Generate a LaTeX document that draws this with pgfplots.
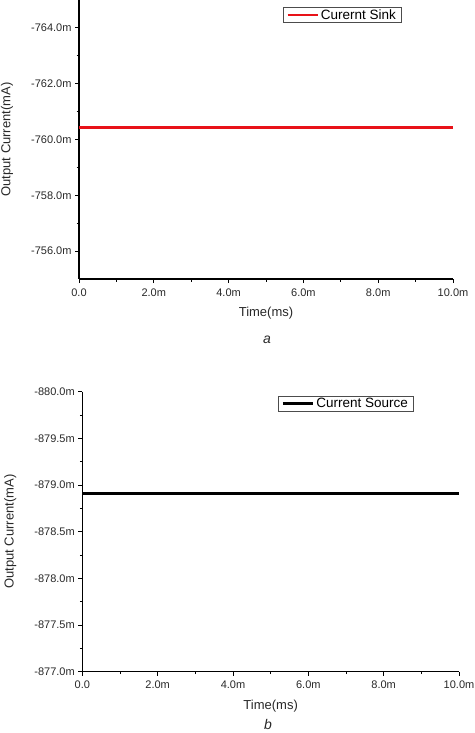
\documentclass[border=0pt]{standalone}
\usepackage{pgfplots}
\pgfplotsset{compat=1.18}
\usepackage{fontspec}
\setmainfont{Liberation Sans}
\definecolor{sinkred}{RGB}{232,18,24}
\definecolor{txt}{RGB}{40,40,40}

\pgfplotsset{
  panel/.style={
    scale only axis,
    axis x line=bottom, axis y line=left,
    axis line style={-, line width=1.2pt},
    tick align=outside,
    major tick length=4pt, minor tick length=2.5pt,
    every tick/.style={black, line width=0.9pt},
    minor x tick num=1, minor y tick num=1,
    y dir=reverse,
    xmin=0, xmax=10,
    xtick={0,2,4,6,8,10},
    xticklabels={0.0,2.0m,4.0m,6.0m,8.0m,10.0m},
    /pgf/number format/assume math mode=true,
    tick label style={font=\fontsize{11}{12}\selectfont, text=txt},
    xticklabel style={yshift=-2pt},
    label style={font=\fontsize{13}{14}\selectfont, text=txt},
    xlabel={Time(ms)},
    ylabel={Output Current(mA)},
    xlabel style={at={(axis description cs:0.5,0)}, anchor=center, yshift=-34pt},
    legend cell align=left,
    legend style={font=\fontsize{13.5}{14}\selectfont, draw=black!70, line width=0.6pt,
      inner xsep=3pt, inner ysep=0pt, row sep=0pt},
    legend image code/.code={\draw[#1, line width=2.8pt] (0pt,0pt) -- (30pt,0pt);},
  }
}

\begin{document}
\begin{tikzpicture}
\clip (0,0) rectangle (474pt,-733pt);
\path[use as bounding box] (0,0) rectangle (474pt,-733pt);

% panel a
\begin{axis}[panel,
    anchor=south west, at={(79pt,-279pt)},
    width=374pt, height=279pt,
    ymin=-765, ymax=-755,
    ytick={-764,-762,-760,-758,-756},
    yticklabels={-764.0m,-762.0m,-760.0m,-758.0m,-756.0m},
    ylabel style={at={(axis description cs:0,0.5)}, anchor=center, yshift=72pt},
    legend style={at={(0.545,0.975)}, anchor=north west},
  ]
  \addplot[sinkred, line width=2.8pt] coordinates {(0,-760.42) (10,-760.42)};
  \addlegendentry{Curernt Sink}
\end{axis}
\node[font=\fontsize{14}{15}\selectfont\itshape, text=txt] at (267pt,-340pt) {a};

% panel b
\begin{axis}[panel,
    anchor=south west, at={(82.3pt,-671.7pt)},
    width=376.7pt, height=280pt,
    ymin=-880, ymax=-877,
    ytick={-880,-879.5,-879,-878.5,-878,-877.5,-877},
    yticklabels={-880.0m,-879.5m,-879.0m,-878.5m,-878.0m,-877.5m,-877.0m},
    ylabel style={at={(axis description cs:0,0.5)}, anchor=center, yshift=72pt},
    legend style={at={(0.52,0.985)}, anchor=north west},
  ]
  \addplot[black, line width=2.8pt] coordinates {(0,-878.91) (10,-878.91)};
  \addlegendentry{Current Source}
\end{axis}
\node[font=\fontsize{14}{15}\selectfont\itshape, text=txt, anchor=south] at (268pt,-733pt) {b};
\end{tikzpicture}
\end{document}
